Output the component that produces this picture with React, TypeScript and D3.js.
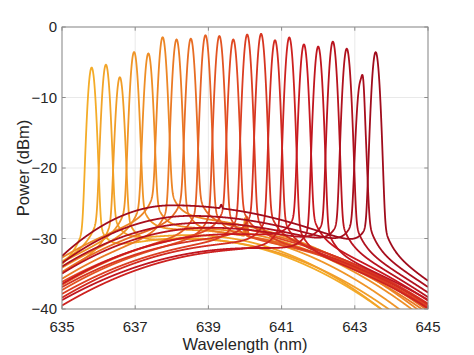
import React from 'react';
import * as d3 from 'd3';

// Lasing peak of each spectrum (nm, dBm), ordered yellow -> dark red
const peakWavelengths = [635.81, 636.2, 636.58, 636.97, 637.36, 637.75, 638.13, 638.52, 638.92, 639.3, 639.68, 640.06, 640.44, 640.82, 641.21, 641.61, 642.0, 642.4, 642.78, 643.16, 643.57];
const peakPowers = [-5.8, -5.4, -7.2, -3.6, -3.8, -1.5, -1.8, -1.7, -1.2, -1.3, -1.8, -1.1, -1.0, -1.9, -1.5, -2.5, -2.8, -2.1, -3.1, -7.8, -3.6];
// Broad spontaneous-emission background of each spectrum
const bgAt635 = [-35.0, -34.0, -35.5, -33.8, -34.5, -33.0, -36.0, -35.0, -36.8, -37.5, -36.3, -38.0, -37.0, -38.5, -39.6, -36.5, -38.8, -35.0, -34.0, -33.5, -32.5];
const bgMax = [-30.0, -29.6, -30.2, -29.0, -28.8, -27.6, -29.5, -28.5, -30.0, -30.5, -29.8, -30.8, -30.2, -31.0, -31.8, -29.5, -31.5, -28.5, -27.8, -26.8, -25.3];
const bgCenter = [638.4, 638.6, 638.6, 638.6, 638.8, 638.5, 639.0, 638.8, 639.3, 639.5, 639.5, 639.8, 639.6, 639.8, 640.0, 639.5, 640.0, 639.0, 638.8, 638.5, 638.0];
const bgAt645 = [-45.5, -46.0, -44.5, -43.5, -42.0, -41.5, -40.8, -40.5, -40.2, -40.0, -39.8, -40.0, -39.5, -39.6, -40.2, -39.2, -39.0, -38.8, -38.2, -37.5, -36.8];
// Small side features
const spikeCurve = [3, 6, 8, 20, 19];
const spikeWavelength = [640.0, 640.02, 640.05, 639.35, 643.22];
const spikeLevel = [-1, -2, 0, -9, -11];
const spikeAbsolute = [false, false, false, false, true];

const xTicks = [635, 637, 639, 641, 643, 645];
const yTicks = [-40, -30, -20, -10, 0];
const colorStops = ['#F4AC28', '#EC8626', '#E04822', '#C81820', '#A00C1C'];

const X0 = 62, X1 = 428, Y0 = 27, Y1 = 309;

export default function App() {
  const x = d3.scaleLinear().domain([635, 645]).range([X0, X1]);
  const y = d3.scaleLinear().domain([-40, 0]).range([Y1, Y0]);
  const color = d3.scaleLinear<string>().domain([0, 0.25, 0.5, 0.75, 1]).range(colorStops).interpolate(d3.interpolateRgb);
  const lambdas = d3.range(0, 2001).map((j) => 635 + j * 0.005);
  const line = d3.line<[number, number]>().x((d) => x(d[0])).y((d) => y(d[1]));
  const n = peakWavelengths.length;
  const sigma = 0.072, gamma = 0.2;

  const curves = d3.range(n).map((i) => {
    const c = bgCenter[i], A = bgMax[i];
    const kL = (A - bgAt635[i]) / ((c - 635) ** 2);
    const kR = (A - bgAt645[i]) / ((645 - c) ** 2);
    const bg = (l: number) => (l < c ? A - kL * (l - c) ** 2 : A - kR * (l - c) ** 2);
    const lp = peakWavelengths[i];
    const pk = Math.pow(10, peakPowers[i] / 10);
    const tail = Math.pow(10, (bg(lp) + 6) / 10);
    const spikes = spikeCurve.map((sc, k) => (sc === i ? k : -1)).filter((k) => k >= 0);
    const pts: [number, number][] = lambdas.map((l) => {
      const dl = l - lp;
      let lin = Math.pow(10, bg(l) / 10) + pk * Math.exp(-(dl * dl) / (2 * sigma * sigma)) + tail / (1 + (dl / gamma) ** 2);
      spikes.forEach((k) => {
        const ls = spikeWavelength[k];
        const lvl = spikeAbsolute[k] ? spikeLevel[k] : bg(ls) + spikeLevel[k];
        const w = spikeAbsolute[k] ? 0.03 : 0.02;
        lin += Math.pow(10, lvl / 10) * Math.exp(-((l - ls) ** 2) / (2 * w * w));
      });
      return [l, 10 * Math.log10(lin)];
    });
    return { d: line(pts) || '', col: color(i / (n - 1)) };
  });

  const tickLen = 3.7;
  const font = 'Liberation Sans, Arial, Helvetica, sans-serif';
  return (
    <svg width={474} height={355} style={{ position: 'absolute', left: 0, top: 0, background: '#fff' }} fontFamily={font}>
      <defs>
        <clipPath id="plotclip">
          <rect x={X0} y={Y0} width={X1 - X0} height={Y1 - Y0} />
        </clipPath>
      </defs>
      <rect x={0} y={0} width={474} height={355} fill="#fff" />
      {xTicks.map((t) => (
        <line key={'gx' + t} x1={x(t)} x2={x(t)} y1={Y0} y2={Y1} stroke="#e3e3e3" strokeWidth={0.8} />
      ))}
      {yTicks.map((t) => (
        <line key={'gy' + t} x1={X0} x2={X1} y1={y(t)} y2={y(t)} stroke="#e3e3e3" strokeWidth={0.8} />
      ))}
      <g clipPath="url(#plotclip)">
        {curves.map((c, i) => (
          <path key={i} d={c.d} fill="none" stroke={c.col} strokeWidth={1.8} strokeLinejoin="round" />
        ))}
      </g>
      <rect x={X0} y={Y0} width={X1 - X0} height={Y1 - Y0} fill="none" stroke="#8c8c8c" strokeWidth={1} />
      {xTicks.map((t) => (
        <g key={'tx' + t}>
          <line x1={x(t)} x2={x(t)} y1={Y1} y2={Y1 - tickLen} stroke="#8c8c8c" />
          <line x1={x(t)} x2={x(t)} y1={Y0} y2={Y0 + tickLen} stroke="#8c8c8c" />
          <text x={x(t)} y={332} textAnchor="middle" fontSize={15} fill="#262626">{t}</text>
        </g>
      ))}
      {yTicks.map((t) => (
        <g key={'ty' + t}>
          <line x1={X0} x2={X0 + tickLen} y1={y(t)} y2={y(t)} stroke="#8c8c8c" />
          <line x1={X1} x2={X1 - tickLen} y1={y(t)} y2={y(t)} stroke="#8c8c8c" />
          <text x={57} y={y(t) + 5.4} textAnchor="end" fontSize={15} fill="#262626">{t === 0 ? '0' : '\u2212' + Math.abs(t)}</text>
        </g>
      ))}
      <text x={(X0 + X1) / 2} y={350} textAnchor="middle" fontSize={16.5} fill="#262626">Wavelength (nm)</text>
      <text transform={`translate(29,${(Y0 + Y1) / 2}) rotate(-90)`} textAnchor="middle" fontSize={16.5} fill="#262626">Power (dBm)</text>
    </svg>
  );
}
